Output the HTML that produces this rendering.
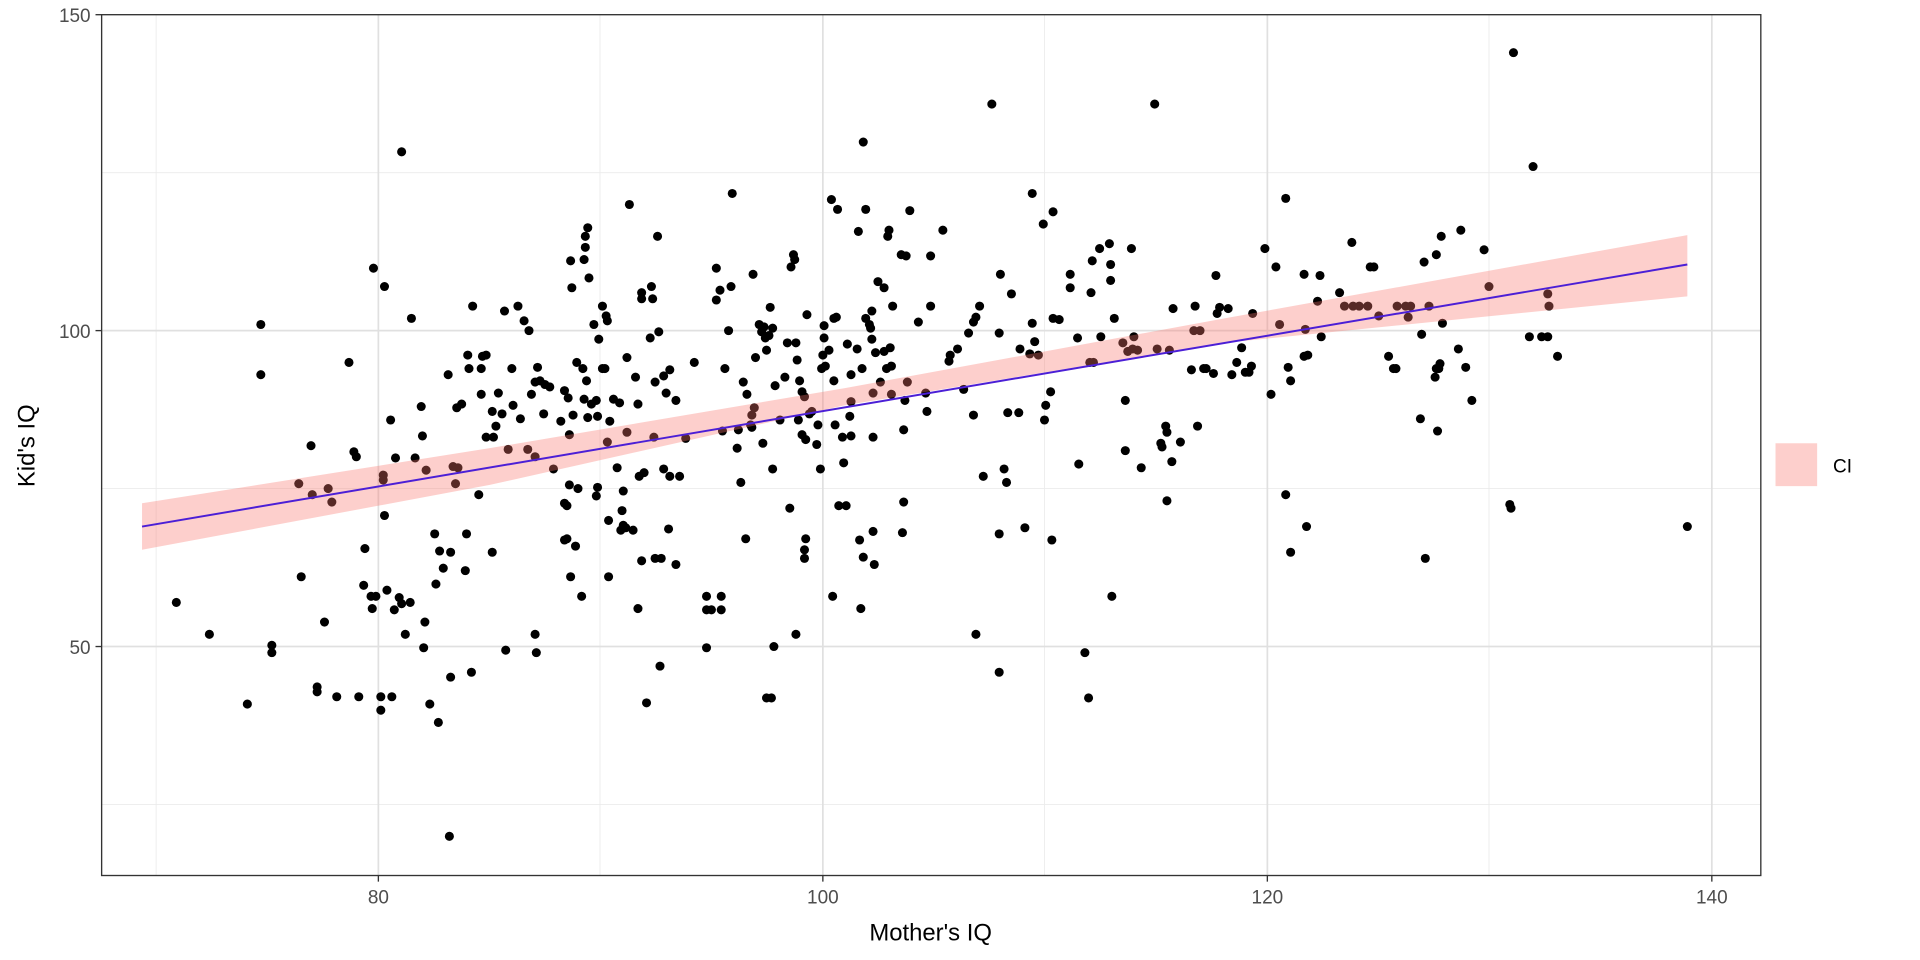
<!DOCTYPE html>
<html><head><meta charset="utf-8"><style>html,body{margin:0;padding:0;background:#fff}svg{display:block}</style></head>
<body>
<svg id="sv" width="1920" height="960" viewBox="0 0 1568 784" xmlns="http://www.w3.org/2000/svg" font-family="Liberation Sans, Arial, sans-serif">
<rect width="1568" height="784" fill="#fff"/>
<g stroke="#ebebeb" stroke-width="0.7">
<line x1="127.5" y1="12" x2="127.5" y2="715"/><line x1="490" y1="12" x2="490" y2="715"/><line x1="853" y1="12" x2="853" y2="715"/><line x1="1216" y1="12" x2="1216" y2="715"/>
<line x1="83" y1="657" x2="1438" y2="657"/><line x1="83" y1="399" x2="1438" y2="399"/><line x1="83" y1="141" x2="1438" y2="141"/>
</g>
<g stroke="#e0e0e0" stroke-width="1.4">
<line x1="309" y1="12" x2="309" y2="715"/><line x1="672" y1="12" x2="672" y2="715"/><line x1="1035" y1="12" x2="1035" y2="715"/><line x1="1398" y1="12" x2="1398" y2="715"/>
<line x1="83" y1="528" x2="1438" y2="528"/><line x1="83" y1="270" x2="1438" y2="270"/>
</g>
<g id="pts" fill="#000"></g>
<path d="M116,411 L400,366 L690,317 L1000,260 L1378,192 L1378,242 L1000,280 L690,331 L400,396 L116,449 Z" fill="#f8766d" fill-opacity="0.35"/>
<line x1="116" y1="430" x2="1378" y2="216" stroke="#4b1fd6" stroke-width="1.6"/>
<rect x="83" y="12" width="1355" height="703" fill="none" stroke="#333" stroke-width="1.1"/>
<g stroke="#333" stroke-width="1.1">
<line x1="78" y1="12" x2="83" y2="12"/><line x1="78" y1="270" x2="83" y2="270"/><line x1="78" y1="528" x2="83" y2="528"/>
<line x1="309" y1="715" x2="309" y2="720"/><line x1="672" y1="715" x2="672" y2="720"/><line x1="1035" y1="715" x2="1035" y2="720"/><line x1="1398" y1="715" x2="1398" y2="720"/>
</g>
<g fill="#4d4d4d" font-size="15.5">
<text x="74" y="18" text-anchor="end">150</text><text x="74" y="276" text-anchor="end">100</text><text x="74" y="534" text-anchor="end">50</text>
<text x="309" y="738" text-anchor="middle">80</text><text x="672" y="738" text-anchor="middle">100</text><text x="1035" y="738" text-anchor="middle">120</text><text x="1398" y="738" text-anchor="middle">140</text>
</g>
<text x="760" y="768" text-anchor="middle" font-size="19.5" fill="#000">Mother's IQ</text>
<text transform="translate(28,364) rotate(-90)" text-anchor="middle" font-size="19.5" fill="#000">Kid's IQ</text>
<rect x="1450" y="362" width="34" height="35" fill="#f8766d" fill-opacity="0.35"/>
<text x="1497" y="386" font-size="15.5" fill="#000">CI</text>
</svg>
<script>
var p=[144,492,171,518,202,575,213,265,213,306,222,527,222,533,244,395,246,471,254,364,255,404,259,561,259,565,265,508,268,399,271,410,275,569,285,296,289,369,291,373,293,569,297,478,298,448,303,487,305,219,304,497,307,487,311,569,311,580,313,392,313,388,314,421,314,234,316,482,319,343,320,569,322,498,323,374,326,488,328,124,328,493,331,518,335,492,336,260,339,374,344,332,345,356,346,529,347,508,348,384,351,575,355,436,356,477,358,590,359,450,362,464,366,306,367,683,368,553,368,451,370,381,372,395,373,333,374,382,377,330,380,466,381,436,382,290,383,301,385,549,386,250,391,404,393,322,393,301,394,291,397,290,397,357,402,336,403,357,405,348,402,451,407,321,410,338,412,254,413,531,415,367,418,301,419,331,423,250,425,342,428,262,431,367,432,270,434,322,437,312,437,373,437,518,438,533,439,300,441,311,444,338,445,314,449,316,452,383,458,344,461,319,461,411,461,441,463,440,465,355,464,325,463,413,465,396,466,471,466,213,467,235,468,339,470,446,471,296,472,399,475,487,476,301,477,326,477,212,478,202,478,193,479,311,480,341,480,186,481,227,483,330,485,265,487,327,487,405,488,340,488,398,489,277,492,301,492,250,494,301,495,258,496,262,496,361,497,425,497,471,498,344,501,326,504,382,506,329,507,433,508,417,509,401,509,429,511,431,512,353,512,292,514,167,517,433,519,308,521,330,521,497,522,389,524,244,524,239,524,458,526,386,528,574,531,276,532,234,533,244,534,357,535,456,535,312,537,193,538,271,539,544,540,456,542,307,542,383,544,321,546,432,547,302,547,389,552,461,552,327,555,389,560,358,567,296,577,529,577,487,577,498,581,498,585,245,585,219,588,237,589,487,589,498,590,352,592,301,595,270,597,234,598,158,602,366,603,351,605,394,607,312,609,440,610,322,613,347,614,339,614,349,615,224,616,333,617,292,620,265,622,271,623,362,624,267,625,276,626,570,626,286,628,274,629,251,630,570,631,268,631,383,632,528,633,315,637,343,641,308,643,280,645,415,646,218,648,208,649,212,650,518,650,280,651,294,652,343,653,311,655,320,655,355,657,324,657,449,657,456,658,440,658,359,659,257,661,338,663,336,667,363,668,347,670,383,671,301,672,290,673,276,673,266,674,299,677,286,679,163,680,487,681,311,681,260,682,347,683,259,684,171,685,413,688,357,689,378,691,413,692,281,694,340,695,356,695,306,695,328,700,285,701,189,702,441,703,497,704,301,705,455,705,116,707,260,707,171,710,265,711,268,712,254,712,277,713,321,713,357,713,434,714,461,715,288,717,230,719,312,722,235,722,287,724,301,725,193,726,188,727,284,728,299,728,322,729,250,736,208,737,435,738,351,738,410,739,327,740,209,741,312,743,172,750,263,756,321,757,336,760,250,760,209,770,188,775,295,776,290,782,285,787,318,791,272,795,263,795,339,797,259,797,518,800,250,803,389,810,85,816,272,816,436,816,549,817,224,820,383,823,337,822,394,826,240,832,337,833,285,837,431,841,289,843,264,843,158,845,279,848,290,852,183,853,343,854,331,858,320,859,441,860,260,860,173,865,261,874,224,874,235,880,276,881,379,886,533,889,570,890,296,891,239,892,213,893,296,898,203,899,275,906,199,907,216,907,229,908,487,910,260,917,280,919,327,919,368,921,287,924,203,925,285,926,275,929,286,932,382,943,85,945,285,948,362,949,365,952,348,953,409,953,353,955,286,957,377,958,252,964,361,973,302,975,270,976,250,978,348,980,270,983,301,985,301,991,305,993,225,994,256,996,251,1003,252,1006,306,1010,296,1014,284,1017,304,1020,304,1022,299,1023,256,1033,203,1038,322,1042,218,1045,265,1050,162,1050,404,1052,300,1054,451,1054,311,1065,224,1065,291,1066,269,1067,430,1068,290,1076,246,1078,225,1079,275,1094,239,1098,250,1104,198,1105,250,1110,250,1117,250,1119,218,1122,218,1126,258,1138,301,1141,250,1148,250,1150,259,1152,250,1160,342,1161,273,1163,214,1164,456,1167,250,1173,208,1173,301,1174,352,1175,301,1177,193,1178,264,1193,188,1202,327,1212,204,1234,415,1236,43,1249,275,1252,136,1259,275,1264,275,1264,240,1265,250,1272,291,1378,430,1134,291,1140,301,1172,308,1176,297,1191,285,1197,300,1216,234,1233,412];
var g=document.getElementById('pts'),ns='http://www.w3.org/2000/svg';
for(var i=0;i<p.length;i+=2){var c=document.createElementNS(ns,'circle');c.setAttribute('cx',p[i]);c.setAttribute('cy',p[i+1]);c.setAttribute('r','3.7');g.appendChild(c);}
</script>
</body></html>
